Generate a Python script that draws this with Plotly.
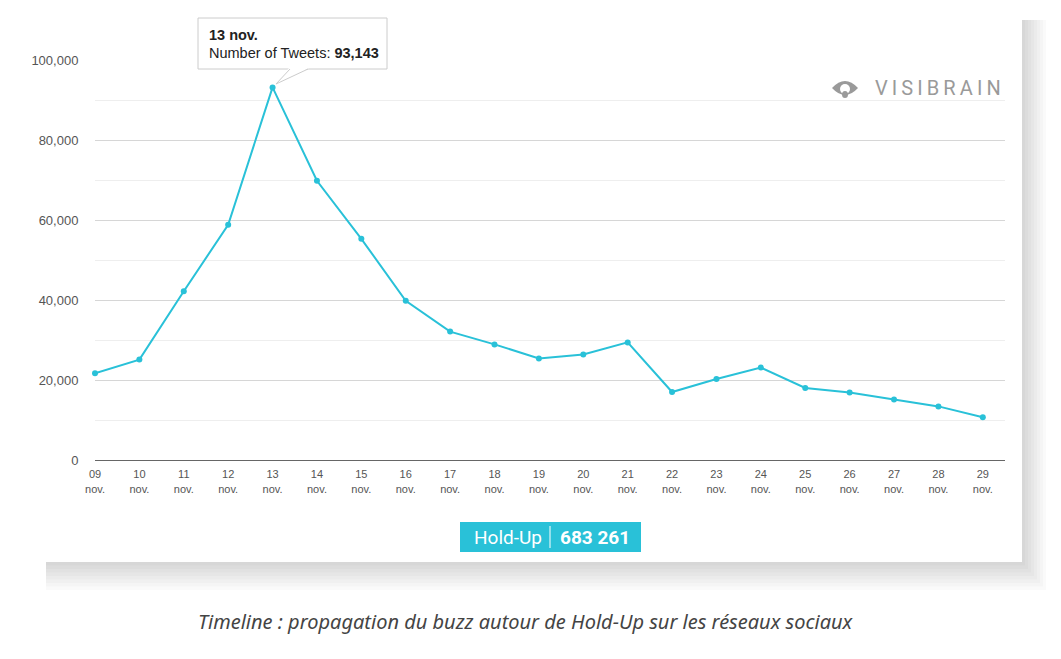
import plotly.graph_objects as go

days = ["09", "10", "11", "12", "13", "14", "15", "16", "17", "18", "19",
        "20", "21", "22", "23", "24", "25", "26", "27", "28", "29"]
month = "nov."
tweets = [21700, 25100, 42200, 58800, 93143, 69800, 55300, 39800, 32100, 28900, 25400,
          26400, 29400, 17000, 20250, 23100, 18000, 16900, 15100, 13400, 10700]
y_ticks = [0, 20000, 40000, 60000, 80000, 100000]
total_label = "683 261"
series_name = "Hold-Up"
caption = "Timeline : propagation du buzz autour de Hold-Up sur les réseaux sociaux"
peak = 4

W, H = 1061, 659
L, R, T, B = 95, 1005, 60, 460  # plot area in pixels


def px(X):
    return (X - L) / (R - L)


def py(Y):
    return (B - Y) / (B - T)


CYAN = "#29c1d8"
x_idx = list(range(len(days)))
ticktext = [f"{d}<br>{month}" for d in days]

fig = go.Figure()
fig.add_trace(go.Scatter(
    x=x_idx, y=tweets, mode="lines+markers",
    line=dict(color=CYAN, width=2),
    marker=dict(color=CYAN, size=6),
    cliponaxis=False,
    name="Number of Tweets",
    hovertemplate="%{y:,}<extra></extra>",
))

shapes = []
# card shadow
cx0, cx1, cy0, cy1 = 40, 1022, -10, 562
for k in range(1, 9):
    shapes.append(dict(type="rect", xref="paper", yref="paper", layer="below",
                       x0=px(cx0 + 6), x1=px(cx1 + k * 3), y0=py(cy0 + 30), y1=py(cy1 + k * 3.5),
                       fillcolor="rgba(0,0,0,0.02)", line=dict(width=0)))
shapes.append(dict(type="rect", xref="paper", yref="paper", layer="below",
                   x0=px(cx0), x1=px(cx1), y0=py(cy0), y1=py(cy1),
                   fillcolor="white", line=dict(width=0)))
# badge
shapes.append(dict(type="rect", xref="paper", yref="paper",
                   x0=px(460), x1=px(641), y0=py(522), y1=py(552),
                   fillcolor=CYAN, line=dict(width=0)))
shapes.append(dict(type="line", xref="paper", yref="paper",
                   x0=px(550), x1=px(550), y0=py(526), y1=py(548),
                   line=dict(color="white", width=1)))

# tooltip box + beak
tb_x0, tb_x1, tb_y0, tb_y1 = 198, 387, 18, 69
shapes.append(dict(type="rect", xref="paper", yref="paper",
                   x0=px(tb_x0), x1=px(tb_x1), y0=py(tb_y0), y1=py(tb_y1),
                   fillcolor="white", line=dict(color="#cccccc", width=1)))
bx0, bx1, tipx, tipy = 290, 308, 276, 84
shapes.append(dict(type="path", xref="paper", yref="paper",
                   path=f"M {px(bx0-1)},{py(tb_y1-1)} L {px(tipx)},{py(tipy)} L {px(bx1+1)},{py(tb_y1-1)} Z",
                   fillcolor="white", line=dict(width=0)))
for bx in (bx0, bx1):
    shapes.append(dict(type="line", xref="paper", yref="paper",
                       x0=px(bx), y0=py(tb_y1), x1=px(tipx), y1=py(tipy),
                       line=dict(color="#cccccc", width=1)))

# eye icon
ex, ey = 845, 88
eye = (f"M {px(ex-13)},{py(ey)} Q {px(ex)},{py(ey-14)} {px(ex+13)},{py(ey)} "
       f"Q {px(ex)},{py(ey+14)} {px(ex-13)},{py(ey)} Z")
shapes.append(dict(type="path", xref="paper", yref="paper", path=eye,
                   fillcolor="#9a9a9a", line=dict(width=0)))
shapes.append(dict(type="circle", xref="paper", yref="paper",
                   x0=px(ex-5), x1=px(ex+5), y0=py(ey-4), y1=py(ey+6),
                   fillcolor="white", line=dict(width=0)))
shapes.append(dict(type="circle", xref="paper", yref="paper",
                   x0=px(ex-3), x1=px(ex+3), y0=py(ey+3), y1=py(ey+10),
                   fillcolor="#9a9a9a", line=dict(width=0)))

hs = "\u200a\u200a"
tipfont = dict(family="Liberation Sans, Arial", size=14.5, color="#222")
annotations = [
    dict(x=px(207), y=py(35), xref="paper", yref="paper", xanchor="left", yanchor="middle",
         text=f"<b>{days[peak].lstrip('0')} {month}</b>", showarrow=False, font=tipfont),
    dict(x=px(207), y=py(53), xref="paper", yref="paper", xanchor="left", yanchor="middle",
         text=f"Number of Tweets: <b>{tweets[peak]:,}</b>", showarrow=False, font=tipfont),
    dict(x=px(1003), y=py(88), xref="paper", yref="paper", xanchor="right", yanchor="middle",
         text=hs.join("VISIBRAIN"), showarrow=False,
         font=dict(family="Roboto, Liberation Sans", size=20, color="#9a9a9a")),
    dict(x=px(508), y=py(537), xref="paper", yref="paper", xanchor="center", yanchor="middle",
         text=series_name, showarrow=False,
         font=dict(family="Roboto", size=19, color="white")),
    dict(x=px(595), y=py(537), xref="paper", yref="paper", xanchor="center", yanchor="middle",
         text=f"<b>{total_label}</b>", showarrow=False,
         font=dict(family="Roboto", size=19, color="white")),
    dict(x=px(526), y=py(621), xref="paper", yref="paper", xanchor="center", yanchor="middle",
         text=f"<i>{caption}</i>", showarrow=False,
         font=dict(family="Noto Sans", size=20, color="#444")),
]

fig.update_layout(
    width=W, height=H,
    margin=dict(l=L, r=W - R, t=T, b=H - B),
    paper_bgcolor="white", plot_bgcolor="rgba(0,0,0,0)",
    showlegend=False,
    shapes=shapes, annotations=annotations,
    xaxis=dict(range=[0, 20.5], tickvals=x_idx, ticktext=ticktext,
               showgrid=False, zeroline=False, showline=True, linecolor="#666", linewidth=1,
               ticks="outside", ticklen=4, tickcolor="rgba(0,0,0,0)",
               tickfont=dict(family="Liberation Sans, Arial", size=11, color="#555")),
    yaxis=dict(range=[0, 100000], tickvals=y_ticks, tickformat=",",
               showgrid=True, gridcolor="#d6d6d6", gridwidth=1,
               minor=dict(dtick=10000, showgrid=True, gridcolor="#eeeeee"),
               zeroline=False, showline=False,
               ticks="outside", ticklen=13, tickcolor="rgba(0,0,0,0)",
               tickfont=dict(family="Liberation Sans, Arial", size=13, color="#555")),
)

fig.write_html("out.html")
